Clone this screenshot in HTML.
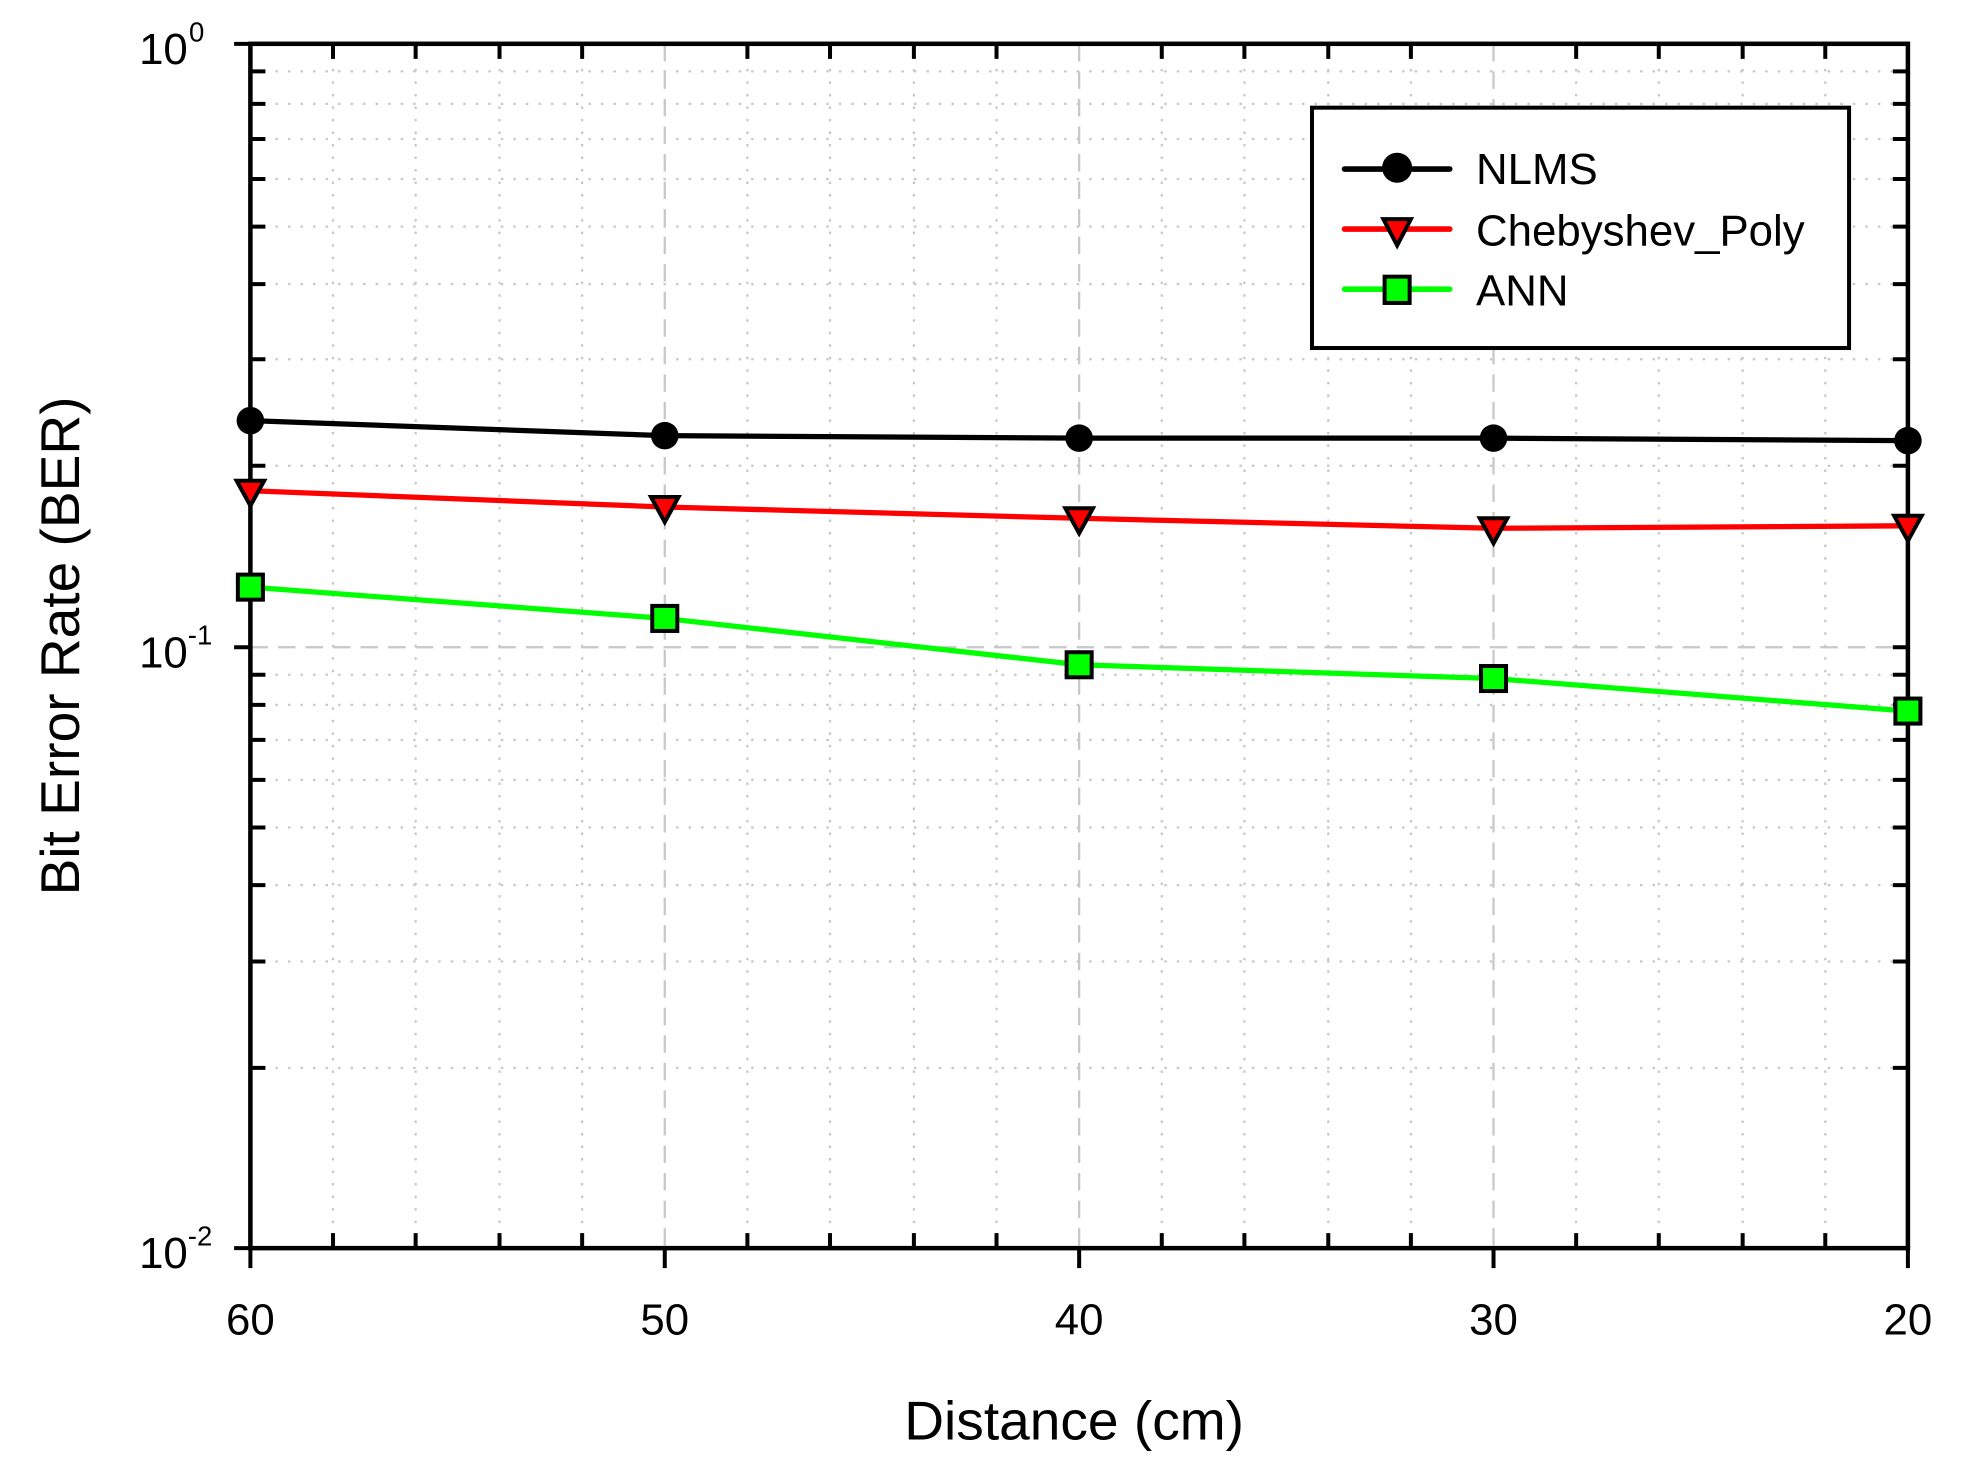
<!DOCTYPE html>
<html><head><meta charset="utf-8"><style>
html,body{margin:0;padding:0;background:#fff;}
svg{display:block;}
text{font-family:"Liberation Sans",Arial,sans-serif;fill:#000;}
</style></head><body>
<svg width="1963" height="1484" viewBox="0 0 1568 1185.4" xmlns="http://www.w3.org/2000/svg">
<rect width="1568" height="1186" fill="#fff"/>
<g stroke="#c8c8c8" stroke-width="1.8" fill="none">
  <path d="M531 35V997M862 35V997M1193 35V997M200 517H1524" stroke-dasharray="14,8"/>
  <g stroke-dasharray="2,8">
    <path d="M266 35V997M332 35V997M399 35V997M465 35V997M597 35V997M663 35V997M730 35V997M796 35V997M928 35V997M994 35V997M1061 35V997M1127 35V997M1259 35V997M1325 35V997M1392 35V997M1458 35V997"/>
    <path d="M200 372H1524M200 287H1524M200 227H1524M200 181H1524M200 143H1524M200 111H1524M200 83H1524M200 57H1524"/>
    <path d="M200 853H1524M200 768H1524M200 707H1524M200 661H1524M200 623H1524M200 591H1524M200 563H1524M200 539H1524"/>
  </g>
</g>
<g stroke="#000" stroke-width="3.2" fill="none">
  <path d="M266 997v-12M332 997v-12M399 997v-12M465 997v-12M597 997v-12M663 997v-12M730 997v-12M796 997v-12M928 997v-12M994 997v-12M1061 997v-12M1127 997v-12M1259 997v-12M1325 997v-12M1392 997v-12M1458 997v-12"/>
  <path d="M266 35v12M332 35v12M399 35v12M465 35v12M597 35v12M663 35v12M730 35v12M796 35v12M928 35v12M994 35v12M1061 35v12M1127 35v12M1259 35v12M1325 35v12M1392 35v12M1458 35v12"/>
  <path d="M200 997v16M531 997v16M862 997v16M1193 997v16M1524 997v16"/>
  <path d="M187 35h13M187 517h13M187 997h13"/>
  <path d="M200 372h12M200 287h12M200 227h12M200 181h12M200 143h12M200 111h12M200 83h12M200 57h12M200 853h12M200 768h12M200 707h12M200 661h12M200 623h12M200 591h12M200 563h12M200 539h12"/>
  <path d="M1524 372h-12M1524 287h-12M1524 227h-12M1524 181h-12M1524 143h-12M1524 111h-12M1524 83h-12M1524 57h-12M1524 853h-12M1524 768h-12M1524 707h-12M1524 661h-12M1524 623h-12M1524 591h-12M1524 563h-12M1524 539h-12M1524 517h-12"/>
  <rect x="200" y="35" width="1324" height="962" stroke-width="3.6"/>
</g>
<g stroke-width="4.2" fill="none">
  <polyline points="200,336 531,348 862,350 1193,350 1524,352" stroke="#000"/>
  <polyline points="200,392 531,405 862,414 1193,422 1524,420" stroke="#ff0000"/>
  <polyline points="200,469 531,494 862,531 1193,542 1524,568" stroke="#00ff00"/>
</g>
<g fill="#000">
  <circle cx="200" cy="336" r="11"/><circle cx="531" cy="348" r="11"/><circle cx="862" cy="350" r="11"/><circle cx="1193" cy="350" r="11"/><circle cx="1524" cy="352" r="11"/>
</g>
<g fill="#ff0000" stroke="#000" stroke-width="3.2">
  <path d="M189 384h22l-11 20z"/><path d="M520 397h22l-11 20z"/><path d="M851 406h22l-11 20z"/><path d="M1182 414h22l-11 20z"/><path d="M1513 412h22l-11 20z"/>
</g>
<g fill="#00ff00" stroke="#000" stroke-width="3.2">
  <rect x="190" y="459" width="20" height="20"/><rect x="521" y="484" width="20" height="20"/><rect x="852" y="521" width="20" height="20"/><rect x="1183" y="532" width="20" height="20"/><rect x="1514" y="558" width="20" height="20"/>
</g>
<rect x="1048" y="86" width="429" height="192" fill="#fff" stroke="#000" stroke-width="3.2"/>
<g stroke-width="4.5" stroke-linecap="round">
  <line x1="1074" y1="135" x2="1158" y2="135" stroke="#000"/>
  <line x1="1074" y1="183" x2="1158" y2="183" stroke="#ff0000"/>
  <line x1="1074" y1="231" x2="1158" y2="231" stroke="#00ff00"/>
</g>
<circle cx="1116" cy="134" r="12" fill="#000"/>
<path d="M1105 175h22l-11 21z" fill="#ff0000" stroke="#000" stroke-width="3.2"/>
<rect x="1106" y="221" width="20" height="21" fill="#00ff00" stroke="#000" stroke-width="3.2"/>
<g font-size="35">
  <text x="1179" y="147">NLMS</text>
  <text x="1179" y="196">Chebyshev_Poly</text>
  <text x="1179" y="244">ANN</text>
</g>
<g font-size="35" text-anchor="middle">
  <text x="200" y="1066">60</text><text x="531" y="1066">50</text><text x="862" y="1066">40</text><text x="1193" y="1066">30</text><text x="1524" y="1066">20</text>
</g>
<g font-size="35" text-anchor="end">
  <text x="150" y="51">10</text><text x="150" y="533">10</text><text x="150" y="1013">10</text>
</g>
<g font-size="22">
  <text x="151" y="33">0</text><text x="150" y="515">-1</text><text x="150" y="995">-2</text>
</g>
<text x="858" y="1150" font-size="44" text-anchor="middle">Distance (cm)</text>
<text transform="translate(63 516) rotate(-90)" font-size="44" text-anchor="middle">Bit Error Rate (BER)</text>
</svg>
</body></html>
